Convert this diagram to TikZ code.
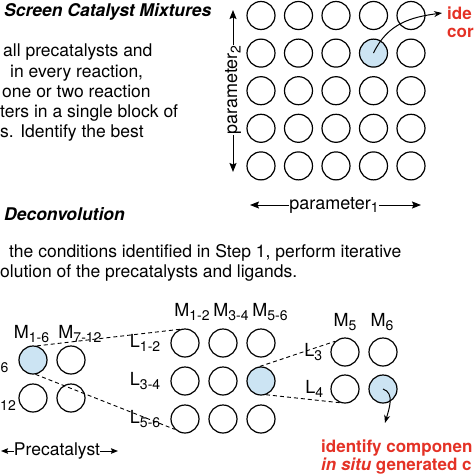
\documentclass[tikz,border=0pt]{standalone}
\usepackage{fontspec}
\setmainfont{TeX Gyre Heros}
\usepackage{xcolor}
\usepackage{tikz}
\usetikzlibrary{arrows.meta, positioning}
\definecolor{hitblue}{RGB}{204,228,243}
\definecolor{callred}{RGB}{228,50,38}
\newcommand{\ix}[1]{\raisebox{-3.5pt}{\fontsize{14}{14}\selectfont #1}}

\begin{document}
\begin{tikzpicture}[
    x=1pt, y=-1pt,
    well/.style={draw, circle, line width=1.2pt, minimum size=28pt, inner sep=0pt},
    hit/.style={well, fill=hitblue},
    txt/.style={anchor=base west, inner sep=0pt, font=\fontsize{17.5}{20}\selectfont},
    head/.style={txt, font=\fontsize{17.5}{20}\selectfont\bfseries\itshape},
    note/.style={txt, font=\fontsize{17}{20}\selectfont\bfseries, text=callred},
    lbl/.style={inner sep=0pt, font=\fontsize{18}{20}\selectfont},
    axis/.style={-{Stealth[length=9pt, width=7pt, inset=1.5pt]}, line width=1pt},
    small axis/.style={-{Stealth[length=7pt, width=5.5pt, inset=1pt]}, line width=1pt},
    zoomline/.style={dash pattern=on 4pt off 3pt, line width=0.9pt},
    pick/.style={-{Stealth[length=8pt, width=6pt]}, line width=1pt}
]
    \useasboundingbox (0,0) rectangle (474,474);
    \clip (0,0) rectangle (474,474);

    % Step 1 text
    \node[head] (title1) at (4,16) {Screen Catalyst Mixtures};
    \node[txt] (s1a) at (3,56) {all precatalysts and};
    \node[txt] (s1b) at (10,77) {in every reaction,};
    \node[txt] (s1c) at (2,97) {one or two reaction};
    \node[txt] (s1d) at (0,117) {ters in a single block of};
    \node[txt] (s1e) at (0,137) {s. Identify the best};

    % Step 1 plate
    \foreach \c in {1,...,5}{
      \foreach \r in {1,...,5}{
        \ifnum\c\r=42 \def\look{hit}\else\def\look{well}\fi
        \node[\look] (g\c\r) at ({261+37.5*(\c-1)}, {15.5+37.6*(\r-1)}) {};
      }
    }
    \node[lbl] (par1) at (334,205) {parameter\ix{1}};
    \coordinate (par1l) at (250,205);
    \coordinate (par1r) at (421,205);
    \draw[axis] (par1.west) -- (par1l);
    \draw[axis] (par1.east) -- (par1r);
    \node[lbl, rotate=90] (par2) at (233,90) {parameter\ix{2}};
    \coordinate (par2t) at (233,10);
    \coordinate (par2b) at (233,172);
    \draw[axis] (par2.east) -- (par2t);
    \draw[axis] (par2.west) -- (par2b);
    \coordinate (bestend) at (442,13);
    \draw[pick] (g42.center) .. controls +(14,-30) and +(-30,4) .. (bestend);
    \node[note] (best1) at (447,19) {ide};
    \node[note] (best2) at (447,37) {cor};

    % Step 2 text
    \node[head] (title2) at (4,220) {Deconvolution};
    \node[txt] (s2a) at (9,257) {the conditions identified in Step 1, perform iterative};
    \node[txt] (s2b) at (0,277) {olution of the precatalysts and ligands.};

    % Precatalyst block
    \foreach \c in {1,2}{
      \foreach \r in {1,2}{
        \ifnum\c\r=11 \def\look{hit}\else\def\look{well}\fi
        \node[\look] (p\c\r) at ({33+38*(\c-1)}, {360+38*(\r-1)}) {};
      }
    }
    \node[lbl] (pm1) at (31.5,334) {M\ix{1-6}};
    \node[lbl] (pm2) at (80,334) {M\ix{7-12}};
    \node[lbl, anchor=east] (pl1) at (8.5,368) {\fontsize{14}{14}\selectfont 6};
    \node[lbl, anchor=east] (pl2) at (16,406) {\fontsize{14}{14}\selectfont 12};
    \node[lbl, font=\fontsize{17.5}{20}\selectfont] (prec) at (57,451) {Precatalyst};
    \coordinate (precl) at (1,451);
    \coordinate (precr) at (118,451);
    \draw[small axis] (prec.west) -- (precl);
    \draw[small axis] (prec.east) -- (precr);

    % Middle block
    \foreach \c in {1,2,3}{
      \foreach \r in {1,2,3}{
        \ifnum\c\r=32 \def\look{hit}\else\def\look{well}\fi
        \node[\look] (m\c\r) at ({185+38*(\c-1)}, {343+38*(\r-1)}) {};
      }
    }
    \node[lbl] (mm1) at (192,312) {M\ix{1-2}};
    \node[lbl] (mm2) at (231,312) {M\ix{3-4}};
    \node[lbl] (mm3) at (270,312) {M\ix{5-6}};
    \node[lbl, left=10pt of m11] (ml1) {L\ix{1-2}};
    \node[lbl, left=10pt of m12] (ml2) {L\ix{3-4}};
    \node[lbl, left=10pt of m13] (ml3) {L\ix{5-6}};
    \draw[zoomline] (p11.75) -- (m11.110);
    \draw[zoomline] (p11.280) -- (m13.225);

    % Right block
    \foreach \c in {1,2}{
      \foreach \r in {1,2}{
        \ifnum\c\r=22 \def\look{hit}\else\def\look{well}\fi
        \node[\look] (r\c\r) at ({345+38*(\c-1)}, {352+37*(\r-1)}) {};
      }
    }
    \node[lbl] (rm1) at (345,322) {M\ix{5}};
    \node[lbl] (rm2) at (382,322) {M\ix{6}};
    \node[lbl, left=8pt of r11] (rl1) {L\ix{3}};
    \node[lbl, left=7pt of r12] (rl2) {L\ix{4}};
    \draw[zoomline] (m32.95) -- (r11.133);
    \draw[zoomline] (m32.290) -- (r12.250);
    \coordinate (compend) at (385,423);
    \draw[pick] (r22.center) .. controls +(12,4) and +(4,-14) .. (compend);
    \node[note] (comp1) at (321,452) {identify componen};
    \node[note] (comp2) at (321,470) {\itshape in situ\upshape{} generated c};
\end{tikzpicture}
\end{document}
